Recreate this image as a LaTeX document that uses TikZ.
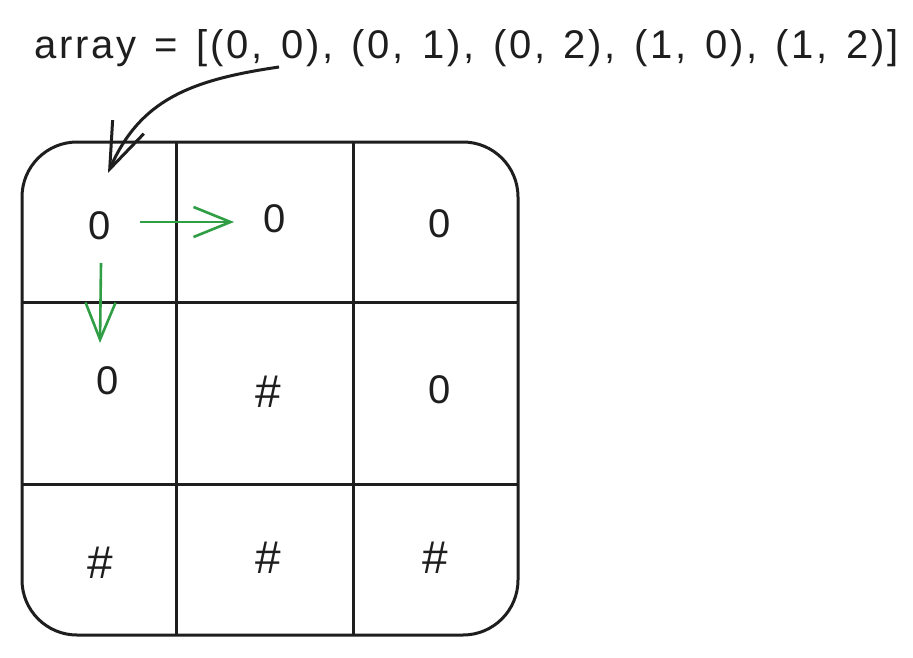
\documentclass[tikz,border=0pt]{standalone}
\usepackage{fontspec}
\setmainfont{Liberation Sans}
\newfontfamily\wide[LetterSpace=7,WordSpace=1.32]{Liberation Sans}
\usetikzlibrary{arrows.meta}
\definecolor{pen}{HTML}{1E1E1E}
\definecolor{grn}{HTML}{2F9E44}
\tikzset{
  gridline/.style={draw=pen,line width=3pt},
  cell/.style={font=\fontsize{40}{42}\selectfont,text=pen,inner sep=0pt},
  hash/.style={font=\fontsize{46}{48}\selectfont,text=pen,inner sep=0pt},
  grnarrow/.style={draw=grn,line width=2.6pt,-{Straight Barb[length=37pt,width=30pt,line width=2.6pt]}},
  blkarrow/.style={draw=pen,line width=3pt,-{Straight Barb[length=46pt,width=34pt,line width=3pt]}}
}
\begin{document}
\begin{tikzpicture}[x=1pt,y=-1pt]
\useasboundingbox[fill=white] (0,0) rectangle (913,657);
% title
\node[anchor=base west,inner sep=0pt,text=pen,font=\wide\fontsize{40}{42}\selectfont] (title) at (34,58) {array = [(0, 0), (0, 1), (0, 2), (1, 0), (1, 2)]};
% grid
\draw[gridline,rounded corners=55pt] (22,142) rectangle (518,635);
\draw[gridline] (176,142) -- (176,635);
\draw[gridline] (353,142) -- (353,635);
\draw[gridline] (22,302) -- (518,302);
\draw[gridline] (22,484) -- (518,484);
% cells
\node[cell] (c00) at (100,226) {0};
\node[cell] (c01) at (275,219) {0};
\node[cell] (c02) at (440,224) {0};
\node[cell] (c10) at (108,381) {0};
\node[hash] (c11) at (268,392) {\#};
\node[cell] (c12) at (440,390) {0};
\node[hash] (c20) at (100,563) {\#};
\node[hash] (c21) at (268,558) {\#};
\node[hash] (c22) at (435,558) {\#};
% arrows
\coordinate (rs) at (140,222);
\coordinate (re) at (234,222);
\coordinate (ds) at (101,263);
\coordinate (de) at (100,343);
\draw[grnarrow] (rs) -- (re);
\draw[grnarrow] (ds) -- (de);
\coordinate (as) at (279,67);
\coordinate (ae) at (108,173);
\draw[blkarrow] (as) .. controls (190,80) and (140,100) .. (ae);
\end{tikzpicture}
\end{document}
